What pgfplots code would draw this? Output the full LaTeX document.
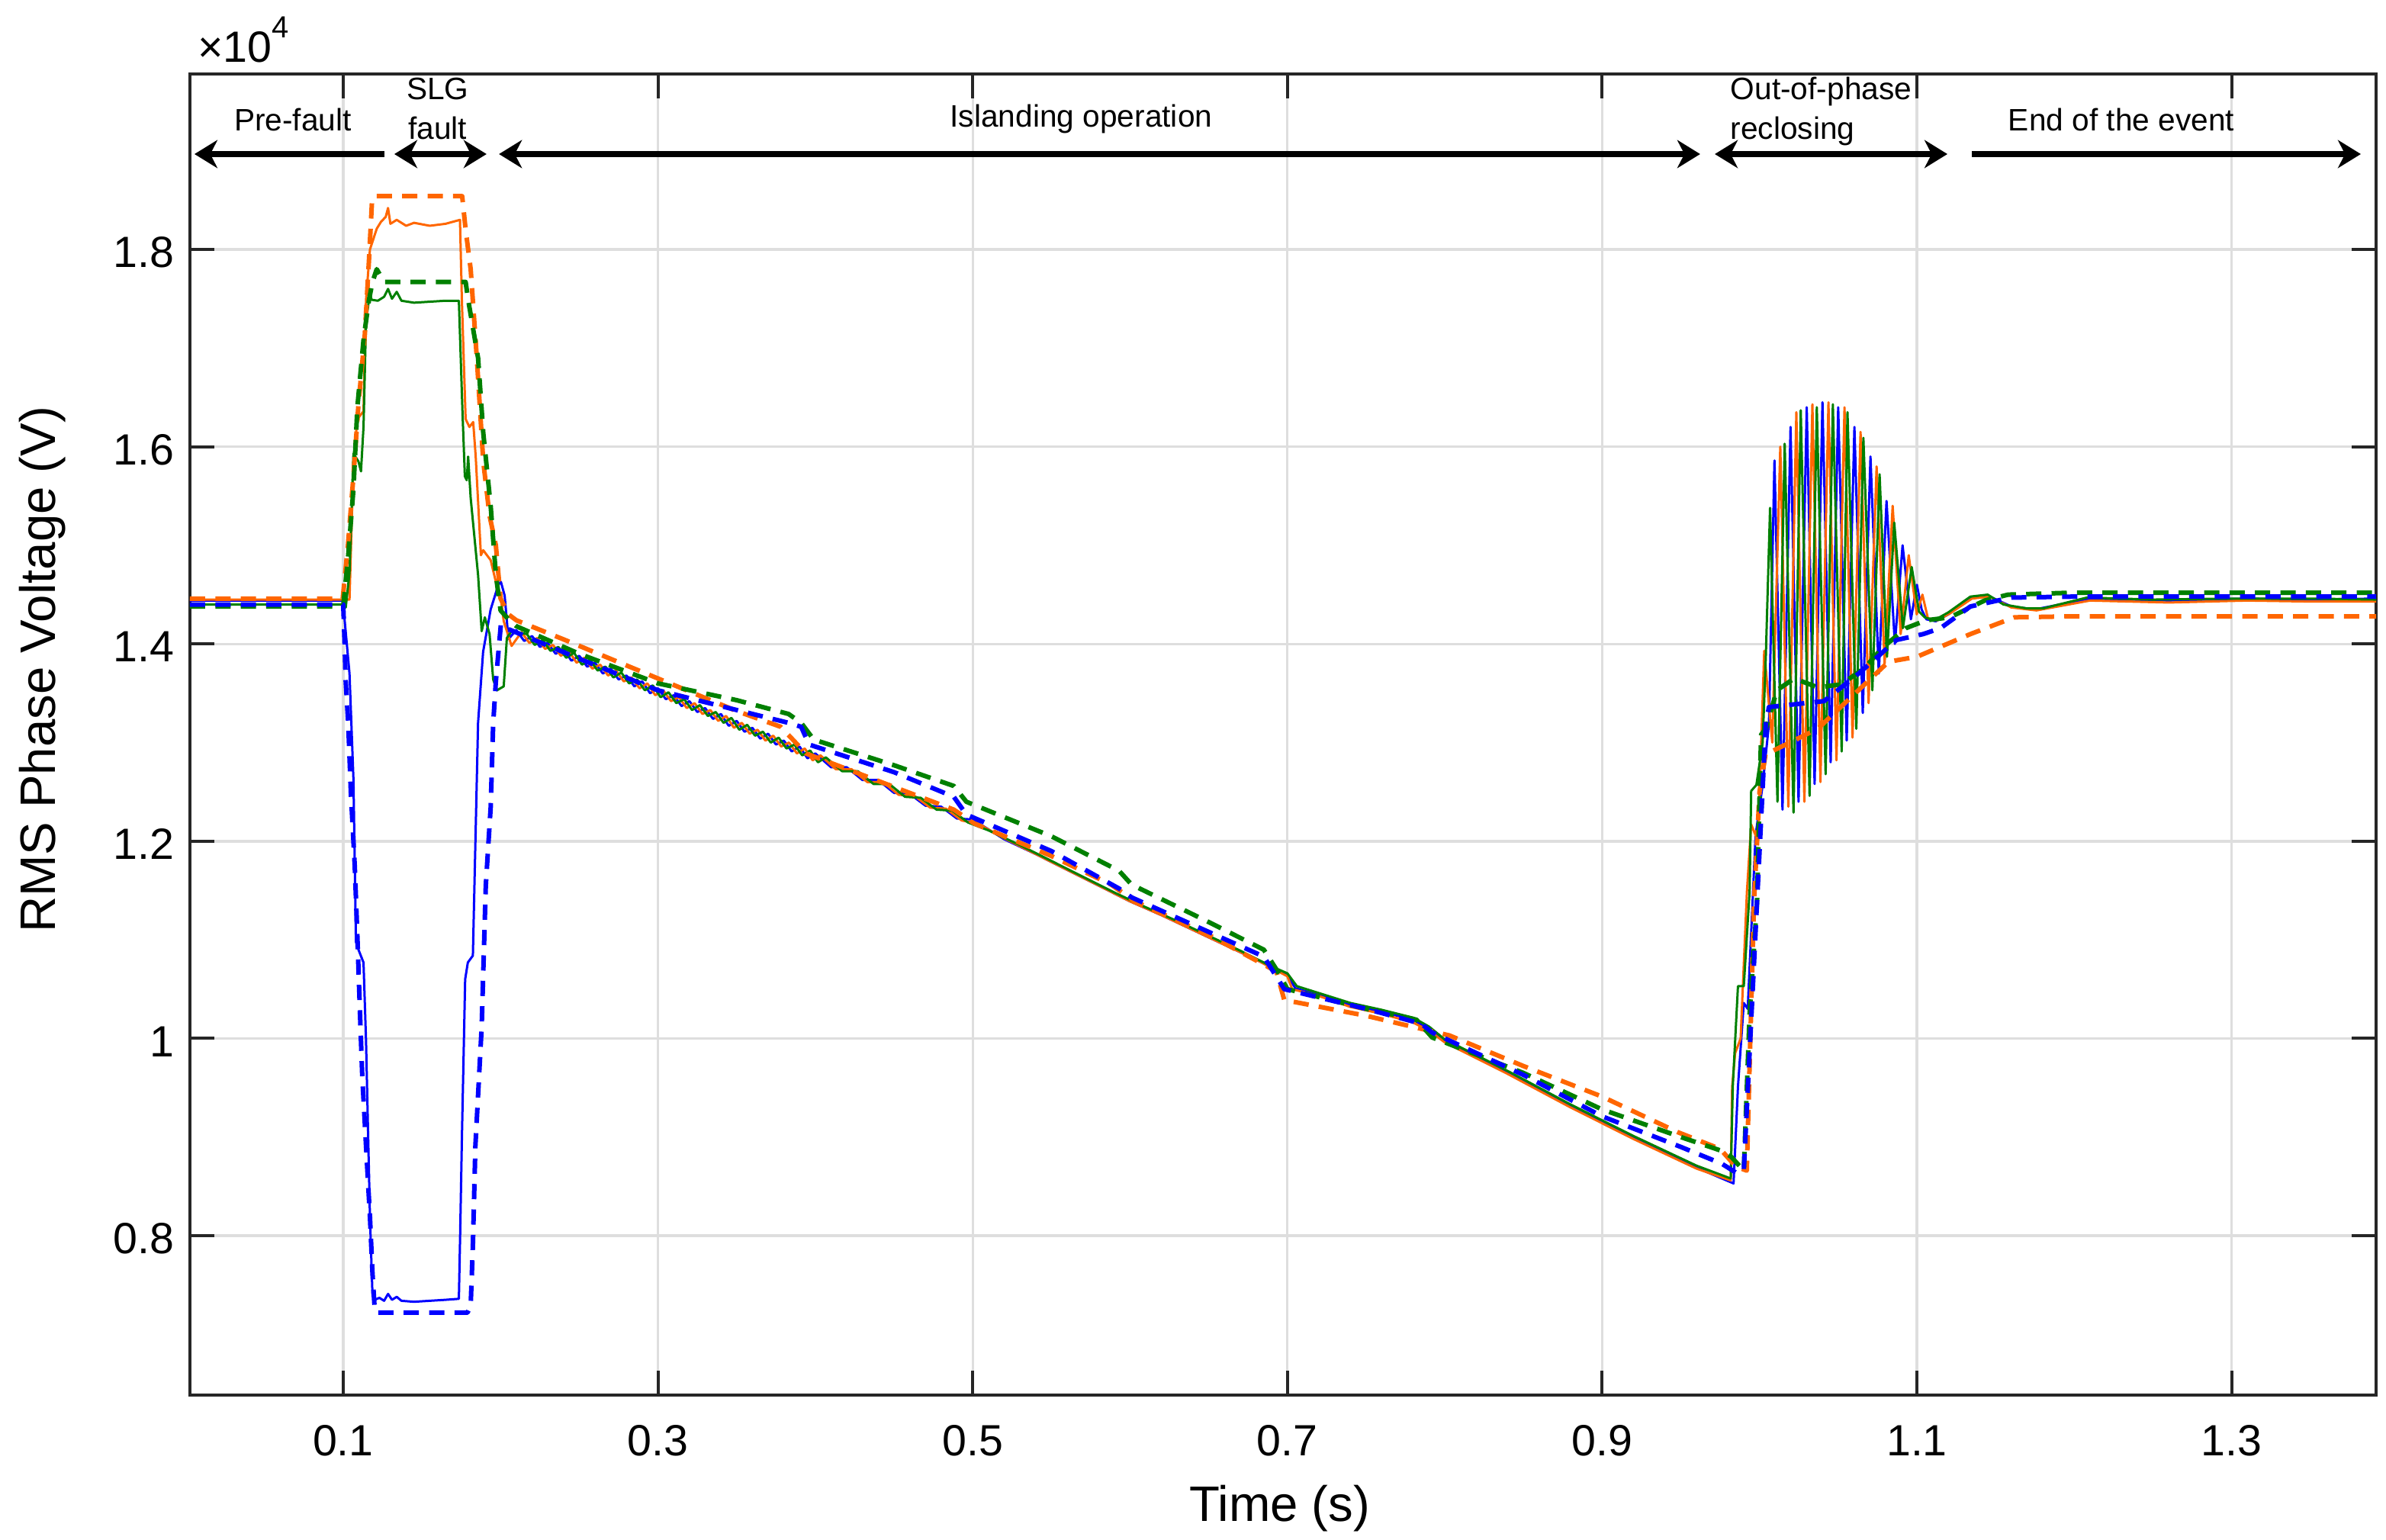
\documentclass[border=0pt]{standalone}
\usepackage{fontspec}
\setmainfont{Liberation Sans}
\usepackage{pgfplots}
\pgfplotsset{compat=1.18}
\usetikzlibrary{arrows.meta}
\definecolor{mblue}{RGB}{0,0,255}
\definecolor{morange}{RGB}{255,102,0}
\definecolor{mgreen}{RGB}{0,128,0}
\definecolor{axgray}{RGB}{38,38,38}
\begin{document}
\begin{tikzpicture}
\begin{axis}[
  at={(0pt,0pt)}, anchor=south west,
  scale only axis, width=429.9pt, height=259.8pt,
  xmin=0.0026, xmax=1.3918, ymin=0.6384, ymax=1.9779,
  xtick={0.1,0.3,0.5,0.7,0.9,1.1,1.3},
  xticklabels={0.1,0.3,0.5,0.7,0.9,1.1,1.3},
  ytick={0.8,1,1.2,1.4,1.6,1.8},
  yticklabels={0.8,1,1.2,1.4,1.6,1.8},
  tick align=inside, tick pos=both,
  major tick length=4.8pt,
  tick style={color=axgray, line width=0.6pt},
  grid=major,
  major grid style={color=black!13, line width=0.5pt},
  axis line style={color=axgray, line width=0.7pt},
  xticklabel style={font=\fontsize{8.6}{10}\selectfont, anchor=base, inner sep=0pt, yshift=-11.85pt},
  yticklabel style={font=\fontsize{8.6}{10}\selectfont, anchor=east, inner sep=0pt, xshift=-2.9pt, yshift=-0.6pt},
  clip=false,
  every axis plot/.append style={line join=round},
]
% ---------- solid blue ----------
\addplot[mblue, line width=0.45pt] coordinates {
(0.0026,1.444) (0.1,1.444) (0.1008,1.426) (0.104,1.37) (0.1065,1.263) (0.1081,1.098) (0.1097,1.09) (0.1129,1.077) (0.1145,0.998) (0.117,0.819) (0.1186,0.74) (0.12,0.735) (0.123,0.737) (0.126,0.734) (0.1285,0.741) (0.131,0.735) (0.134,0.738) (0.137,0.734) (0.145,0.733) (0.155,0.734) (0.165,0.735) (0.1735,0.736) (0.1743,0.80) (0.1755,0.905) (0.1775,1.06) (0.1792,1.077) (0.1824,1.084) (0.1857,1.32) (0.1889,1.392) (0.1937,1.435) (0.1986,1.46) (0.2002,1.463) (0.2026,1.449) (0.205,1.405)
(0.210,1.414) (0.215,1.403) (0.220,1.408) (0.225,1.397) (0.230,1.401) (0.235,1.390) (0.240,1.395) (0.245,1.383) (0.250,1.388) (0.255,1.377) (0.260,1.381) (0.265,1.370) (0.270,1.375) (0.275,1.364) (0.280,1.368) (0.285,1.357) (0.290,1.362) (0.295,1.350) (0.300,1.355) (0.305,1.344) (0.310,1.348) (0.315,1.337) (0.320,1.342) (0.325,1.331) (0.330,1.335) (0.335,1.324) (0.340,1.329) (0.345,1.317) (0.350,1.322) (0.355,1.311) (0.360,1.315) (0.365,1.304) (0.370,1.309) (0.375,1.298) (0.380,1.302) (0.385,1.291) (0.390,1.296) (0.395,1.284) (0.400,1.289)
(0.41,1.275) (0.42,1.275) (0.43,1.262) (0.44,1.262) (0.45,1.249) (0.46,1.248) (0.47,1.236) (0.48,1.235) (0.49,1.223) (0.50,1.222)
(0.52,1.202) (0.54,1.187) (0.56,1.171) (0.58,1.155) (0.60,1.139) (0.62,1.125) (0.64,1.110) (0.66,1.095) (0.68,1.080) (0.70,1.064) (0.705,1.051) (0.72,1.044) (0.74,1.034) (0.76,1.027) (0.78,1.019) (0.79,1.009) (0.80,0.997) (0.82,0.981) (0.84,0.965) (0.86,0.948) (0.88,0.931) (0.90,0.915) (0.92,0.899) (0.94,0.884) (0.96,0.869) (0.9835,0.853)
(0.9863,0.951) (0.99,1.036) (0.9925,1.03) (0.9975,1.206) (1.002,1.257) (1.006,1.319)
(1.0095,1.586) (1.0146,1.232) (1.0197,1.62) (1.0248,1.24) (1.03,1.64) (1.035,1.258) (1.04,1.645) (1.0452,1.28) (1.05,1.64) (1.0554,1.302) (1.0603,1.62) (1.0656,1.33) (1.0705,1.59) (1.0758,1.37) (1.0807,1.545) (1.086,1.40) (1.0909,1.50) (1.0962,1.425) (1.1,1.46) (1.103,1.435)
(1.106,1.425) (1.112,1.423) (1.12,1.43) (1.134,1.447) (1.145,1.449) (1.16,1.438) (1.175,1.435) (1.21,1.446) (1.26,1.444) (1.31,1.446) (1.35,1.445) (1.3918,1.446)
};
% ---------- solid orange ----------
\addplot[morange, line width=0.45pt] coordinates {
(0.0026,1.445) (0.1,1.445) (0.104,1.445) (0.1065,1.585) (0.109,1.628) (0.1129,1.636) (0.1145,1.749) (0.117,1.80) (0.1213,1.821) (0.124,1.828) (0.127,1.833) (0.1285,1.842) (0.13,1.826) (0.134,1.83) (0.14,1.824) (0.145,1.827) (0.155,1.824) (0.165,1.826) (0.1742,1.83) (0.1754,1.749) (0.1778,1.628) (0.1802,1.62) (0.1826,1.625) (0.1842,1.59) (0.1875,1.49) (0.189,1.495) (0.1937,1.485) (0.197,1.463) (0.2,1.449) (0.202,1.423) (0.207,1.398)
(0.2133,1.412) (0.2183,1.401) (0.2233,1.406) (0.2283,1.395) (0.2333,1.399) (0.2383,1.388) (0.2433,1.393) (0.2483,1.381) (0.2533,1.386) (0.2583,1.375) (0.2633,1.379) (0.2683,1.368) (0.2733,1.373) (0.2783,1.362) (0.2833,1.366) (0.2883,1.355) (0.2933,1.360) (0.2983,1.348) (0.3033,1.353) (0.3083,1.342) (0.3133,1.346) (0.3183,1.335) (0.3233,1.340) (0.3283,1.329) (0.3333,1.333) (0.3383,1.322) (0.3433,1.327) (0.3483,1.315) (0.3533,1.320) (0.3583,1.309) (0.3633,1.313) (0.3683,1.302) (0.3733,1.307) (0.3783,1.296) (0.3833,1.300) (0.3883,1.289) (0.3933,1.294) (0.3983,1.282) (0.4033,1.287)
(0.413,1.273) (0.423,1.273) (0.433,1.260) (0.443,1.260) (0.453,1.247) (0.463,1.246) (0.473,1.234) (0.483,1.233) (0.493,1.221) (0.503,1.218)
(0.52,1.203) (0.54,1.187) (0.56,1.171) (0.58,1.155) (0.60,1.139) (0.62,1.125) (0.64,1.110) (0.66,1.095) (0.68,1.080) (0.70,1.063) (0.703,1.050) (0.72,1.043) (0.74,1.032) (0.76,1.025) (0.78,1.016) (0.79,1.008) (0.80,0.996) (0.82,0.980) (0.84,0.964) (0.86,0.947) (0.88,0.930) (0.90,0.914) (0.92,0.898) (0.94,0.883) (0.96,0.868) (0.9817,0.856)
(0.9826,0.951) (0.9845,0.985) (0.988,1.0) (0.992,1.149) (0.9947,1.217) (0.999,1.2) (1.003,1.393) (1.0081,1.30) (1.0132,1.60) (1.0183,1.235) (1.0234,1.635) (1.0285,1.24) (1.0336,1.643) (1.0387,1.26) (1.0438,1.645) (1.0489,1.282) (1.054,1.64) (1.0591,1.305) (1.0642,1.615) (1.0693,1.34) (1.0744,1.58) (1.0795,1.38) (1.0846,1.54) (1.0897,1.41) (1.0948,1.49) (1.0999,1.43) (1.1035,1.45)
(1.107,1.426) (1.113,1.424) (1.121,1.431) (1.135,1.446) (1.146,1.448) (1.16,1.437) (1.176,1.434) (1.21,1.444) (1.26,1.442) (1.31,1.444) (1.35,1.443) (1.3918,1.443)
};
% ---------- solid green ----------
\addplot[mgreen, line width=0.45pt] coordinates {
(0.0026,1.44) (0.1,1.44) (0.1016,1.437) (0.104,1.472) (0.1065,1.593) (0.1097,1.585) (0.1113,1.575) (0.1129,1.62) (0.1145,1.727) (0.117,1.756) (0.118,1.749) (0.122,1.748) (0.126,1.752) (0.1285,1.76) (0.131,1.75) (0.134,1.757) (0.137,1.748) (0.145,1.746) (0.155,1.747) (0.165,1.748) (0.1735,1.748) (0.1758,1.635) (0.1773,1.57) (0.1785,1.566) (0.1794,1.59) (0.181,1.548) (0.1857,1.47) (0.188,1.413) (0.19,1.427) (0.193,1.41) (0.1953,1.364) (0.1977,1.353) (0.202,1.357) (0.204,1.406) (0.207,1.413)
(0.2167,1.410) (0.2217,1.399) (0.2267,1.404) (0.2317,1.393) (0.2367,1.397) (0.2417,1.386) (0.2467,1.391) (0.2517,1.379) (0.2567,1.384) (0.2617,1.373) (0.2667,1.377) (0.2717,1.366) (0.2767,1.371) (0.2817,1.360) (0.2867,1.364) (0.2917,1.353) (0.2967,1.358) (0.3017,1.346) (0.3067,1.351) (0.3117,1.340) (0.3167,1.344) (0.3217,1.333) (0.3267,1.338) (0.3317,1.327) (0.3367,1.331) (0.3417,1.320) (0.3467,1.325) (0.3517,1.313) (0.3567,1.318) (0.3617,1.307) (0.3667,1.311) (0.3717,1.300) (0.3767,1.305) (0.3817,1.294) (0.3867,1.298) (0.3917,1.287) (0.3967,1.292) (0.4017,1.280) (0.4067,1.285)
(0.417,1.271) (0.427,1.271) (0.437,1.258) (0.447,1.258) (0.457,1.245) (0.467,1.244) (0.477,1.232) (0.487,1.231) (0.497,1.219) (0.51,1.211)
(0.53,1.196) (0.55,1.180) (0.57,1.164) (0.59,1.148) (0.61,1.133) (0.63,1.119) (0.65,1.104) (0.67,1.089) (0.69,1.073) (0.70,1.066) (0.706,1.053) (0.72,1.046) (0.74,1.036) (0.76,1.029) (0.78,1.021) (0.79,1.012) (0.80,0.999) (0.82,0.983) (0.84,0.967) (0.86,0.950) (0.88,0.933) (0.90,0.917) (0.92,0.901) (0.94,0.886) (0.96,0.871) (0.9817,0.858)
(0.983,0.951) (0.9863,1.053) (0.99,1.053) (0.9937,1.149) (0.9947,1.251) (0.998,1.257) (1.002,1.30) (1.004,1.387) (1.0067,1.538) (1.0114,1.24) (1.016,1.603) (1.0216,1.229) (1.0262,1.637) (1.0318,1.246) (1.0364,1.64) (1.042,1.268) (1.0466,1.643) (1.0522,1.291) (1.0559,1.635) (1.0615,1.314) (1.066,1.609) (1.0717,1.353) (1.0763,1.572) (1.081,1.387) (1.0856,1.523) (1.0911,1.416) (1.0967,1.478) (1.1013,1.433)
(1.105,1.427) (1.111,1.424) (1.12,1.432) (1.134,1.448) (1.145,1.45) (1.155,1.44) (1.17,1.436) (1.18,1.436) (1.208,1.447) (1.25,1.445) (1.3,1.446) (1.35,1.446) (1.3918,1.445)
};
% ---------- dashed orange ----------
\addplot[morange, line width=0.9pt, dash pattern=on 3pt off 2pt] coordinates {
(0.0026,1.446) (0.0997,1.446) (0.103,1.50) (0.1065,1.57) (0.1097,1.643) (0.1137,1.713) (0.1164,1.79) (0.1184,1.852) (0.121,1.854) (0.1756,1.854) (0.1778,1.82) (0.181,1.78) (0.1849,1.69) (0.189,1.585) (0.193,1.53) (0.197,1.5) (0.2,1.446) (0.205,1.43) (0.21,1.424) (0.241,1.404) (0.3,1.365) (0.35,1.332) (0.378,1.316) (0.394,1.289) (0.45,1.255) (0.488,1.232) (0.501,1.218) (0.55,1.185) (0.588,1.156) (0.603,1.139) (0.65,1.105) (0.693,1.068) (0.698,1.039) (0.75,1.023) (0.803,1.003) (0.85,0.972) (0.9,0.941) (0.948,0.905) (0.975,0.888) (0.985,0.87) (0.9919,0.866) (0.9965,1.138) (1.0,1.25) (1.004,1.29) (1.0077,1.291) (1.037,1.314) (1.082,1.382) (1.1,1.387) (1.134,1.41) (1.162,1.427) (1.2,1.428) (1.3918,1.428)
};
% ---------- dashed green ----------
\addplot[mgreen, line width=0.9pt, dash pattern=on 3pt off 2pt] coordinates {
(0.0026,1.438) (0.1,1.438) (0.1032,1.49) (0.1065,1.557) (0.109,1.64) (0.113,1.71) (0.1164,1.749) (0.1186,1.767) (0.1213,1.78) (0.126,1.767) (0.1778,1.767) (0.1794,1.749) (0.1857,1.69) (0.189,1.614) (0.1937,1.54) (0.197,1.47) (0.2,1.434) (0.205,1.425) (0.21,1.418) (0.25,1.39) (0.3,1.36) (0.35,1.343) (0.383,1.329) (0.391,1.32) (0.399,1.303) (0.45,1.277) (0.488,1.256) (0.496,1.24) (0.55,1.205) (0.593,1.17) (0.601,1.156) (0.65,1.118) (0.685,1.09) (0.693,1.07) (0.7,1.05) (0.75,1.03) (0.782,1.019) (0.792,1.001) (0.85,0.965) (0.9,0.928) (0.95,0.9) (0.976,0.886) (0.982,0.88) (0.99,0.866) (0.9937,1.025) (0.9984,1.138) (1.001,1.308) (1.004,1.314) (1.011,1.353) (1.022,1.365) (1.037,1.356) (1.052,1.359) (1.067,1.376) (1.078,1.396) (1.093,1.416) (1.106,1.424) (1.121,1.427) (1.143,1.444) (1.158,1.45) (1.2,1.452) (1.3918,1.452)
};
% ---------- dashed blue ----------
\addplot[mblue, line width=0.9pt, dash pattern=on 3pt off 2pt] coordinates {
(0.0026,1.44) (0.1,1.44) (0.1008,1.405) (0.1016,1.362) (0.1032,1.319) (0.1049,1.248) (0.1073,1.176) (0.109,1.104) (0.1105,1.033) (0.1121,0.962) (0.1145,0.891) (0.117,0.819) (0.1186,0.762) (0.12,0.726) (0.121,0.722) (0.179,0.722) (0.181,0.729) (0.1824,0.79) (0.184,0.891) (0.188,1.012) (0.1906,1.155) (0.1937,1.234) (0.1953,1.319) (0.197,1.362) (0.2002,1.42) (0.205,1.415) (0.25,1.385) (0.3,1.353) (0.35,1.333) (0.383,1.32) (0.391,1.316) (0.396,1.298) (0.45,1.27) (0.488,1.245) (0.496,1.227) (0.55,1.19) (0.593,1.152) (0.601,1.143) (0.65,1.108) (0.685,1.083) (0.698,1.05) (0.75,1.03) (0.785,1.015) (0.792,1.006) (0.85,0.963) (0.9,0.921) (0.95,0.89) (0.976,0.873) (0.985,0.864) (0.99,0.866) (1.004,1.319) (1.006,1.336) (1.041,1.342) (1.063,1.37) (1.087,1.404) (1.104,1.41) (1.115,1.416) (1.134,1.438) (1.16,1.447) (1.2,1.448) (1.3918,1.448)
};
% ---------- annotations ----------
\tikzset{evarrow/.style={line width=1.1pt, black}}
\draw[evarrow, {Stealth[length=4.5pt,width=5.5pt,inset=1.4pt]}-] (axis cs:0.0055,1.8967) -- (axis cs:0.1262,1.8967);
\draw[evarrow, {Stealth[length=4.5pt,width=5.5pt,inset=1.4pt]}-{Stealth[length=4.5pt,width=5.5pt,inset=1.4pt]}] (axis cs:0.1325,1.8967) -- (axis cs:0.1911,1.8967);
\draw[evarrow, {Stealth[length=4.5pt,width=5.5pt,inset=1.4pt]}-{Stealth[length=4.5pt,width=5.5pt,inset=1.4pt]}] (axis cs:0.199,1.8967) -- (axis cs:0.9623,1.8967);
\draw[evarrow, {Stealth[length=4.5pt,width=5.5pt,inset=1.4pt]}-{Stealth[length=4.5pt,width=5.5pt,inset=1.4pt]}] (axis cs:0.9716,1.8967) -- (axis cs:1.1194,1.8967);
\draw[evarrow, -{Stealth[length=4.5pt,width=5.5pt,inset=1.4pt]}] (axis cs:1.1349,1.8967) -- (axis cs:1.3821,1.8967);
\tikzset{evtext/.style={inner sep=0pt, font=\fontsize{6.1}{7}\selectfont}}
\node[evtext, anchor=base] at (axis cs:0.068,1.92) {Pre-fault};
\node[evtext, anchor=base] at (axis cs:0.160,1.952) {SLG};
\node[evtext, anchor=base] at (axis cs:0.160,1.912) {fault};
\node[evtext, anchor=base] at (axis cs:0.569,1.9245) {Islanding operation};
\node[evtext, anchor=base west] at (axis cs:0.981,1.952) {Out-of-phase};
\node[evtext, anchor=base west] at (axis cs:0.981,1.912) {reclosing};
\node[evtext, anchor=base] at (axis cs:1.2299,1.92) {End of the event};
\end{axis}
% axis labels and exponent
\node[anchor=base, inner sep=0pt, font=\fontsize{9.8}{11}\selectfont] at (214.3pt,-24.9pt) {Time (s)};
\node[anchor=base, inner sep=0pt, rotate=90, font=\fontsize{9.8}{11}\selectfont] at (-26.4pt,142.65pt) {RMS Phase Voltage (V)};
\node[anchor=base west, inner sep=0pt, font=\fontsize{8.6}{10}\selectfont] at (1.35pt,262.05pt) {×10\raisebox{4.8pt}{\fontsize{6}{7}\selectfont 4}};
\pgfresetboundingbox
\path[use as bounding box] (-37.35pt,-28.5pt) rectangle (431.85pt,274.35pt);
\end{tikzpicture}
\end{document}
